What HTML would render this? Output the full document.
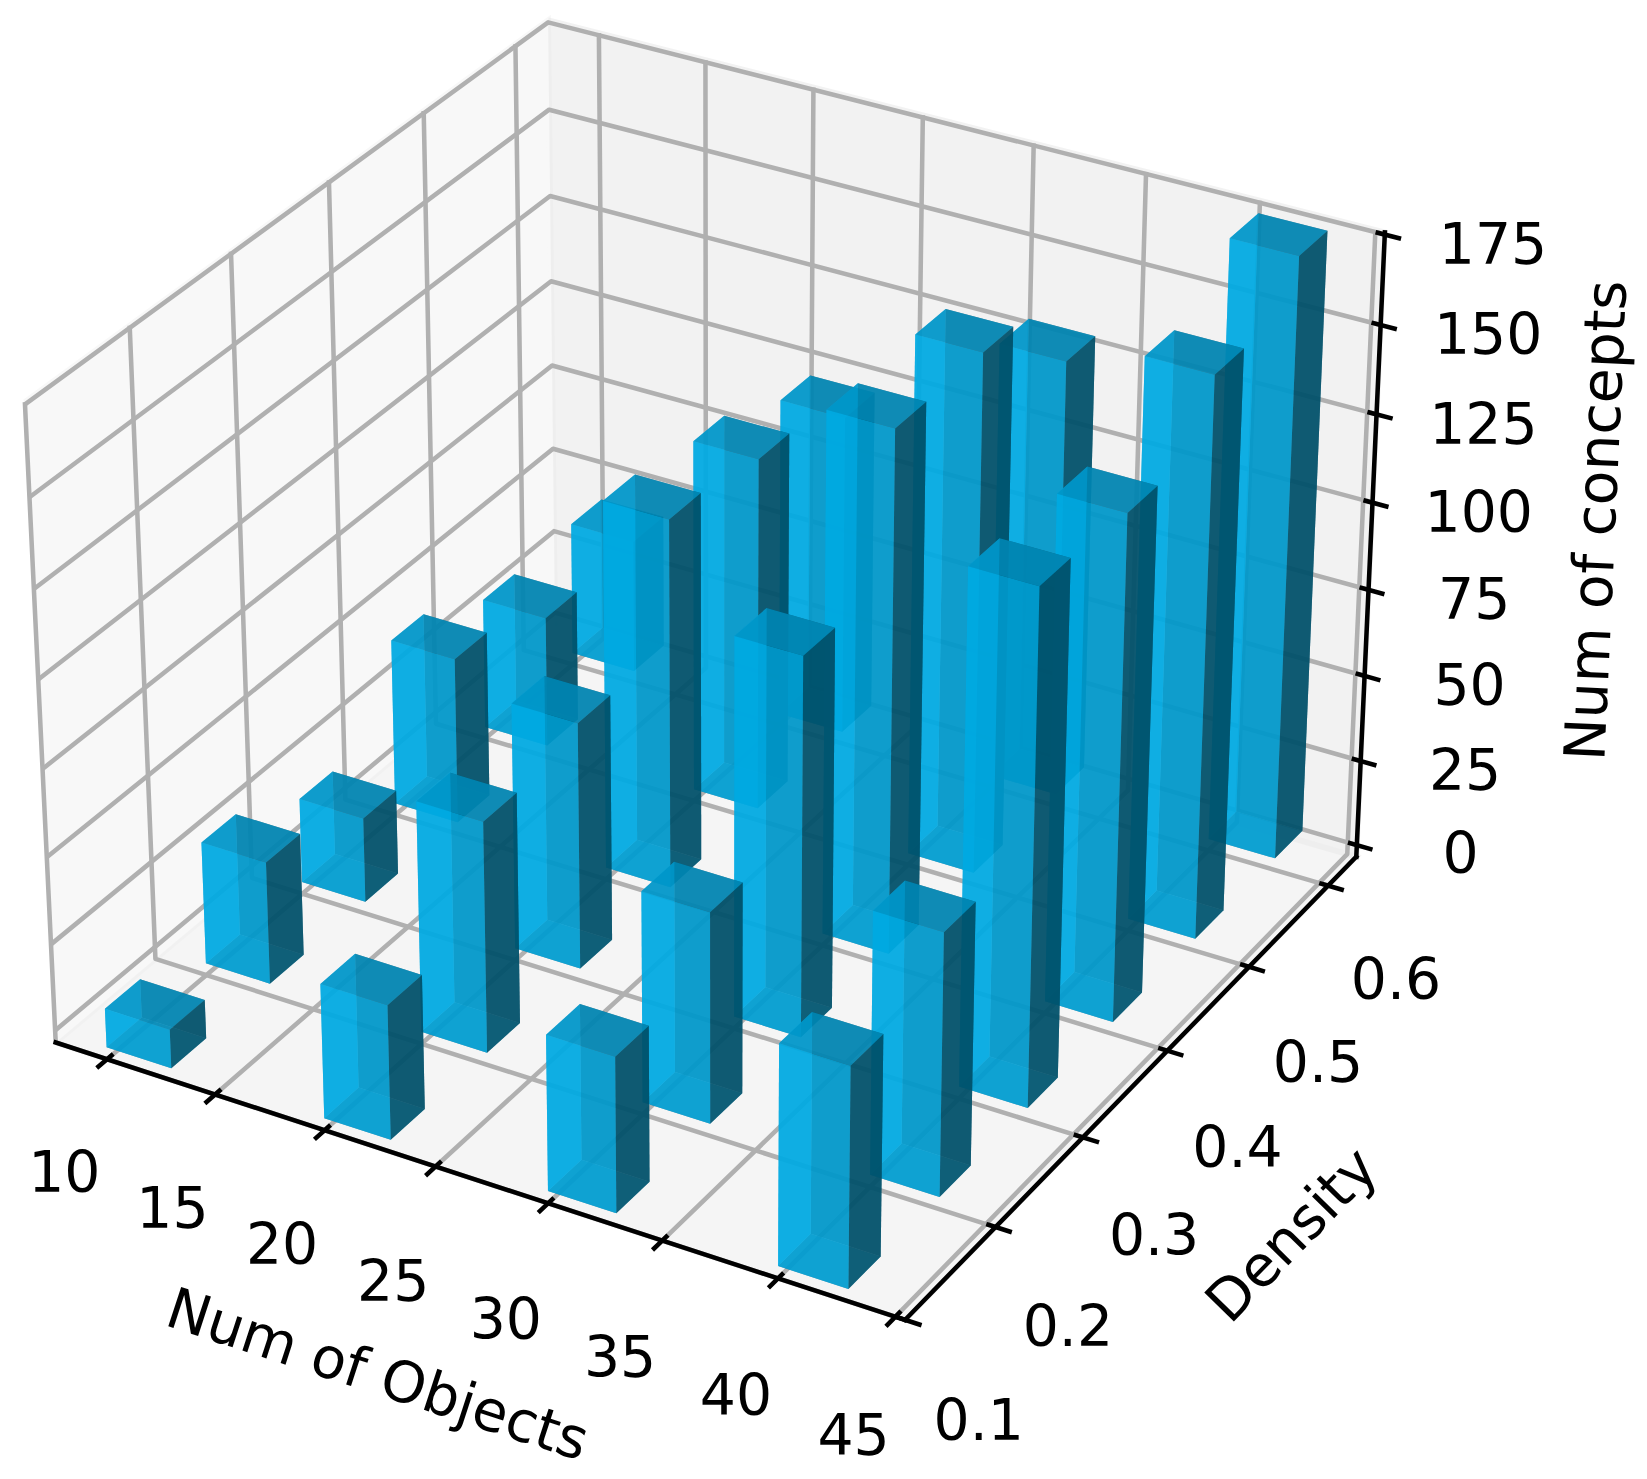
<!DOCTYPE html>
<html lang="en"><head><meta charset="utf-8"><title>Num of concepts by Num of Objects and Density</title>
<style>html,body{margin:0;padding:0;background:#fff;}body{width:1647px;height:1479px;overflow:hidden;font-family:"DejaVu Sans","Liberation Sans",sans-serif;}</style>
</head><body>
<svg width="1647" height="1479" viewBox="113.393 58.507 289.860 260.293" style="display:block">
 <defs>
  <style type="text/css">*{stroke-linejoin: round; stroke-linecap: butt}</style>
 </defs>
 <g id="figure_1">
  <g id="patch_1">
   <path d="M 0 345.6 L 460.8 345.6 L 460.8 0 L 0 0 z
" style="fill: #ffffff"/>
  </g>
  <g id="patch_2">
   <path d="M 103.104 307.584 L 369.216 307.584 L 369.216 41.472 L 103.104 41.472 z
" style="fill: #ffffff"/>
  </g>
  <g id="pane3d_1">
   <g id="patch_3">
    <path d="M 123.197 241.969 L 211.076 168.307 L 209.854 62.073 L 117.770 129.272 " style="fill: #f2f2f2; opacity: 0.5; stroke: #f2f2f2; stroke-linejoin: miter"/>
   </g>
  </g>
  <g id="pane3d_2">
   <g id="patch_4">
    <path d="M 211.076 168.307 L 352.090 209.294 L 357.122 99.402 L 209.854 62.073 " style="fill: #e6e6e6; opacity: 0.5; stroke: #e6e6e6; stroke-linejoin: miter"/>
   </g>
  </g>
  <g id="pane3d_3">
   <g id="patch_5">
    <path d="M 123.197 241.969 L 272.679 290.790 L 352.090 209.294 L 211.076 168.307 " style="fill: #ececec; opacity: 0.5; stroke: #ececec; stroke-linejoin: miter"/>
   </g>
  </g>
  <g id="grid3d_1">
   <g id="Line3DCollection_1">
    <path d="M 132.250 244.926 L 219.652 170.800 L 218.793 64.339 " style="fill: none; stroke: #b0b0b0; stroke-width: 0.8"/>
    <path d="M 151.254 251.132 L 237.638 176.028 L 237.547 69.093 " style="fill: none; stroke: #b0b0b0; stroke-width: 0.8"/>
    <path d="M 170.520 257.425 L 255.853 181.322 L 256.550 73.909 " style="fill: none; stroke: #b0b0b0; stroke-width: 0.8"/>
    <path d="M 190.054 263.804 L 274.300 186.684 L 275.805 78.790 " style="fill: none; stroke: #b0b0b0; stroke-width: 0.8"/>
    <path d="M 209.862 270.274 L 292.983 192.114 L 295.318 83.736 " style="fill: none; stroke: #b0b0b0; stroke-width: 0.8"/>
    <path d="M 229.949 276.834 L 311.908 197.615 L 315.095 88.749 " style="fill: none; stroke: #b0b0b0; stroke-width: 0.8"/>
    <path d="M 250.322 283.488 L 331.079 203.187 L 335.140 93.830 " style="fill: none; stroke: #b0b0b0; stroke-width: 0.8"/>
    <path d="M 270.987 290.237 L 350.501 208.832 L 355.459 98.980 " style="fill: none; stroke: #b0b0b0; stroke-width: 0.8"/>
   </g>
  </g>
  <g id="grid3d_2">
   <g id="Line3DCollection_2">
    <path d="M 117.770 129.272 L 123.197 241.969 L 272.679 290.790 " style="fill: none; stroke: #b0b0b0; stroke-width: 0.8"/>
    <path d="M 136.215 115.812 L 140.747 227.258 L 288.594 274.457 " style="fill: none; stroke: #b0b0b0; stroke-width: 0.8"/>
    <path d="M 154.042 102.803 L 157.733 213.020 L 303.971 258.677 " style="fill: none; stroke: #b0b0b0; stroke-width: 0.8"/>
    <path d="M 171.280 90.223 L 174.182 199.232 L 318.837 243.420 " style="fill: none; stroke: #b0b0b0; stroke-width: 0.8"/>
    <path d="M 187.959 78.052 L 190.120 185.873 L 333.217 228.663 " style="fill: none; stroke: #b0b0b0; stroke-width: 0.8"/>
    <path d="M 204.104 66.269 L 205.569 172.923 L 347.134 214.380 " style="fill: none; stroke: #b0b0b0; stroke-width: 0.8"/>
   </g>
  </g>
  <g id="grid3d_3">
   <g id="Line3DCollection_3">
    <path d="M 352.184 207.237 L 211.053 166.314 L 123.095 239.863 " style="fill: none; stroke: #b0b0b0; stroke-width: 0.8"/>
    <path d="M 352.862 192.442 L 210.888 151.987 L 122.366 224.711 " style="fill: none; stroke: #b0b0b0; stroke-width: 0.8"/>
    <path d="M 353.547 177.467 L 210.721 137.494 L 121.627 209.369 " style="fill: none; stroke: #b0b0b0; stroke-width: 0.8"/>
    <path d="M 354.241 162.310 L 210.553 122.833 L 120.879 193.833 " style="fill: none; stroke: #b0b0b0; stroke-width: 0.8"/>
    <path d="M 354.944 146.967 L 210.382 108.000 L 120.121 178.098 " style="fill: none; stroke: #b0b0b0; stroke-width: 0.8"/>
    <path d="M 355.655 131.434 L 210.210 92.993 L 119.354 162.162 " style="fill: none; stroke: #b0b0b0; stroke-width: 0.8"/>
    <path d="M 356.375 115.709 L 210.035 77.809 L 118.576 146.019 " style="fill: none; stroke: #b0b0b0; stroke-width: 0.8"/>
    <path d="M 357.105 99.786 L 209.858 62.444 L 117.789 129.668 " style="fill: none; stroke: #b0b0b0; stroke-width: 0.8"/>
   </g>
  </g>
  <g id="axis3d_1">
   <g id="line2d_1">
    <path d="M 123.197 241.969 L 272.679 290.790 " style="fill: none; stroke: #000000; stroke-width: 0.8; stroke-linecap: square"/>
   </g>
   <g id="xtick_1">
    <g id="line2d_2">
     <path d="M 133.011 244.280 L 130.725 246.219 " style="fill: none; stroke: #000000; stroke-width: 0.8; stroke-linecap: square"/>
    </g>
    <g id="text_1">
     <text style="font-size: 10px; font-family: 'DejaVu Sans', 'Liberation Sans', sans-serif; text-anchor: middle" x="124.721" y="268.235">10</text>
    </g>
   </g>
   <g id="xtick_2">
    <g id="line2d_3">
     <path d="M 152.006 250.478 L 149.745 252.444 " style="fill: none; stroke: #000000; stroke-width: 0.8; stroke-linecap: square"/>
    </g>
    <g id="text_2">
     <text style="font-size: 10px; font-family: 'DejaVu Sans', 'Liberation Sans', sans-serif; text-anchor: middle" x="143.744" y="274.573">15</text>
    </g>
   </g>
   <g id="xtick_3">
    <g id="line2d_4">
     <path d="M 171.264 256.761 L 169.029 258.754 " style="fill: none; stroke: #000000; stroke-width: 0.8; stroke-linecap: square"/>
    </g>
    <g id="text_3">
     <text style="font-size: 10px; font-family: 'DejaVu Sans', 'Liberation Sans', sans-serif; text-anchor: middle" x="163.031" y="280.999">20</text>
    </g>
   </g>
   <g id="xtick_4">
    <g id="line2d_5">
     <path d="M 190.789 263.132 L 188.581 265.153 " style="fill: none; stroke: #000000; stroke-width: 0.8; stroke-linecap: square"/>
    </g>
    <g id="text_4">
     <text style="font-size: 10px; font-family: 'DejaVu Sans', 'Liberation Sans', sans-serif; text-anchor: middle" x="182.587" y="287.514">25</text>
    </g>
   </g>
   <g id="xtick_5">
    <g id="line2d_6">
     <path d="M 210.587 269.591 L 208.408 271.641 " style="fill: none; stroke: #000000; stroke-width: 0.8; stroke-linecap: square"/>
    </g>
    <g id="text_5">
     <text style="font-size: 10px; font-family: 'DejaVu Sans', 'Liberation Sans', sans-serif; text-anchor: middle" x="202.418" y="294.122">30</text>
    </g>
   </g>
   <g id="xtick_6">
    <g id="line2d_7">
     <path d="M 230.665 276.142 L 228.515 278.221 " style="fill: none; stroke: #000000; stroke-width: 0.8; stroke-linecap: square"/>
    </g>
    <g id="text_6">
     <text style="font-size: 10px; font-family: 'DejaVu Sans', 'Liberation Sans', sans-serif; text-anchor: middle" x="222.530" y="300.823">35</text>
    </g>
   </g>
   <g id="xtick_7">
    <g id="line2d_8">
     <path d="M 251.028 282.786 L 248.908 284.894 " style="fill: none; stroke: #000000; stroke-width: 0.8; stroke-linecap: square"/>
    </g>
    <g id="text_7">
     <text style="font-size: 10px; font-family: 'DejaVu Sans', 'Liberation Sans', sans-serif; text-anchor: middle" x="242.929" y="307.619">40</text>
    </g>
   </g>
   <g id="xtick_8">
    <g id="line2d_9">
     <path d="M 271.682 289.525 L 269.593 291.664 " style="fill: none; stroke: #000000; stroke-width: 0.8; stroke-linecap: square"/>
    </g>
    <g id="text_8">
     <text style="font-size: 10px; font-family: 'DejaVu Sans', 'Liberation Sans', sans-serif; text-anchor: middle" x="263.621" y="314.513">45</text>
    </g>
   </g>
   <g id="text_9">
    <text style="font-size: 10px; font-family: 'DejaVu Sans', 'Liberation Sans', sans-serif; text-anchor: middle" x="178.819" y="303.631" transform="rotate(-341.912 178.819 303.631)">Num of Objects</text>
   </g>
  </g>
  <g id="axis3d_2">
   <g id="line2d_10">
    <path d="M 352.090 209.294 L 272.679 290.790 " style="fill: none; stroke: #000000; stroke-width: 0.8; stroke-linecap: square"/>
   </g>
   <g id="xtick_9">
    <g id="line2d_11">
     <path d="M 271.419 290.378 L 275.202 291.614 " style="fill: none; stroke: #000000; stroke-width: 0.8; stroke-linecap: square"/>
    </g>
    <g id="text_10">
     <text style="font-size: 10px; font-family: 'DejaVu Sans', 'Liberation Sans', sans-serif; text-anchor: middle" x="285.633" y="311.895">0.1</text>
    </g>
   </g>
   <g id="xtick_10">
    <g id="line2d_12">
     <path d="M 287.348 274.060 L 291.087 275.253 " style="fill: none; stroke: #000000; stroke-width: 0.8; stroke-linecap: square"/>
    </g>
    <g id="text_11">
     <text style="font-size: 10px; font-family: 'DejaVu Sans', 'Liberation Sans', sans-serif; text-anchor: middle" x="301.334" y="295.321">0.2</text>
    </g>
   </g>
   <g id="xtick_11">
    <g id="line2d_13">
     <path d="M 302.740 258.292 L 306.435 259.446 " style="fill: none; stroke: #000000; stroke-width: 0.8; stroke-linecap: square"/>
    </g>
    <g id="text_12">
     <text style="font-size: 10px; font-family: 'DejaVu Sans', 'Liberation Sans', sans-serif; text-anchor: middle" x="316.505" y="279.306">0.3</text>
    </g>
   </g>
   <g id="xtick_12">
    <g id="line2d_14">
     <path d="M 317.620 243.049 L 321.272 244.164 " style="fill: none; stroke: #000000; stroke-width: 0.8; stroke-linecap: square"/>
    </g>
    <g id="text_13">
     <text style="font-size: 10px; font-family: 'DejaVu Sans', 'Liberation Sans', sans-serif; text-anchor: middle" x="331.171" y="263.825">0.4</text>
    </g>
   </g>
   <g id="xtick_13">
    <g id="line2d_15">
     <path d="M 332.014 228.303 L 335.624 229.383 " style="fill: none; stroke: #000000; stroke-width: 0.8; stroke-linecap: square"/>
    </g>
    <g id="text_14">
     <text style="font-size: 10px; font-family: 'DejaVu Sans', 'Liberation Sans', sans-serif; text-anchor: middle" x="345.358" y="248.850">0.5</text>
    </g>
   </g>
   <g id="xtick_14">
    <g id="line2d_16">
     <path d="M 345.946 214.032 L 349.514 215.077 " style="fill: none; stroke: #000000; stroke-width: 0.8; stroke-linecap: square"/>
    </g>
    <g id="text_15">
     <text style="font-size: 10px; font-family: 'DejaVu Sans', 'Liberation Sans', sans-serif; text-anchor: middle" x="359.088" y="234.356">0.6</text>
    </g>
   </g>
   <g id="text_16">
    <text style="font-size: 10px; font-family: 'DejaVu Sans', 'Liberation Sans', sans-serif; text-anchor: middle" x="343.109" y="278.155" transform="rotate(-45.742 343.109 278.155)">Density</text>
   </g>
  </g>
  <g id="axis3d_3">
   <g id="line2d_17">
    <path d="M 352.090 209.294 L 357.122 99.402 " style="fill: none; stroke: #000000; stroke-width: 0.8; stroke-linecap: square"/>
   </g>
   <g id="xtick_15">
    <g id="line2d_18">
     <path d="M 351.000 206.894 L 354.556 207.925 " style="fill: none; stroke: #000000; stroke-width: 0.8; stroke-linecap: square"/>
    </g>
    <g id="text_17">
     <text style="font-size: 10px; font-family: 'DejaVu Sans', 'Liberation Sans', sans-serif; text-anchor: middle" x="370.448" y="212.235">0</text>
    </g>
   </g>
   <g id="xtick_16">
    <g id="line2d_19">
     <path d="M 351.670 192.102 L 355.248 193.122 " style="fill: none; stroke: #000000; stroke-width: 0.8; stroke-linecap: square"/>
    </g>
    <g id="text_18">
     <text style="font-size: 10px; font-family: 'DejaVu Sans', 'Liberation Sans', sans-serif; text-anchor: middle" x="371.233" y="197.468">25</text>
    </g>
   </g>
   <g id="xtick_17">
    <g id="line2d_20">
     <path d="M 352.348 177.132 L 355.949 178.140 " style="fill: none; stroke: #000000; stroke-width: 0.8; stroke-linecap: square"/>
    </g>
    <g id="text_19">
     <text style="font-size: 10px; font-family: 'DejaVu Sans', 'Liberation Sans', sans-serif; text-anchor: middle" x="372.028" y="182.524">50</text>
    </g>
   </g>
   <g id="xtick_18">
    <g id="line2d_21">
     <path d="M 353.034 161.979 L 356.658 162.974 " style="fill: none; stroke: #000000; stroke-width: 0.8; stroke-linecap: square"/>
    </g>
    <g id="text_20">
     <text style="font-size: 10px; font-family: 'DejaVu Sans', 'Liberation Sans', sans-serif; text-anchor: middle" x="372.832" y="167.398">75</text>
    </g>
   </g>
   <g id="xtick_19">
    <g id="line2d_22">
     <path d="M 353.729 146.640 L 357.376 147.623 " style="fill: none; stroke: #000000; stroke-width: 0.8; stroke-linecap: square"/>
    </g>
    <g id="text_21">
     <text style="font-size: 10px; font-family: 'DejaVu Sans', 'Liberation Sans', sans-serif; text-anchor: middle" x="373.646" y="152.086">100</text>
    </g>
   </g>
   <g id="xtick_20">
    <g id="line2d_23">
     <path d="M 354.433 131.111 L 358.103 132.081 " style="fill: none; stroke: #000000; stroke-width: 0.8; stroke-linecap: square"/>
    </g>
    <g id="text_22">
     <text style="font-size: 10px; font-family: 'DejaVu Sans', 'Liberation Sans', sans-serif; text-anchor: middle" x="374.470" y="136.586">125</text>
    </g>
   </g>
   <g id="xtick_21">
    <g id="line2d_24">
     <path d="M 355.145 115.390 L 358.839 116.347 " style="fill: none; stroke: #000000; stroke-width: 0.8; stroke-linecap: square"/>
    </g>
    <g id="text_23">
     <text style="font-size: 10px; font-family: 'DejaVu Sans', 'Liberation Sans', sans-serif; text-anchor: middle" x="375.305" y="120.894">150</text>
    </g>
   </g>
   <g id="xtick_22">
    <g id="line2d_25">
     <path d="M 355.866 99.472 L 359.584 100.415 " style="fill: none; stroke: #000000; stroke-width: 0.8; stroke-linecap: square"/>
    </g>
    <g id="text_24">
     <text style="font-size: 10px; font-family: 'DejaVu Sans', 'Liberation Sans', sans-serif; text-anchor: middle" x="376.150" y="105.007">175</text>
    </g>
   </g>
   <g id="text_25">
    <text style="font-size: 10px; font-family: 'DejaVu Sans', 'Liberation Sans', sans-serif; text-anchor: middle" x="397.683" y="150.269" transform="rotate(-87.378 397.683 150.269)">Num of concepts</text>
   </g>
  </g>
  <g id="axes_1">
   <g id="Poly3DCollection_1">
    <path d="M 214.156 173.439 L 219.426 168.980 L 230.201 172.106 L 224.969 176.598 z
" clip-path="url(#p7716fed305)" style="fill: #006688; fill-opacity: 0.75"/>
    <path d="M 219.426 168.980 L 219.242 146.404 L 230.114 149.471 L 230.201 172.106 z
" clip-path="url(#p7716fed305)" style="fill: #00506a; fill-opacity: 0.75"/>
    <path d="M 214.156 173.439 L 213.923 150.781 L 219.242 146.404 L 219.426 168.980 z
" clip-path="url(#p7716fed305)" style="fill: #00a9e1; fill-opacity: 0.75"/>
    <path d="M 224.969 176.598 L 230.201 172.106 L 230.114 149.471 L 224.834 153.882 z
" clip-path="url(#p7716fed305)" style="fill: #00506a; fill-opacity: 0.75"/>
    <path d="M 214.156 173.439 L 224.969 176.598 L 224.834 153.882 L 213.923 150.781 z
" clip-path="url(#p7716fed305)" style="fill: #00a9e1; fill-opacity: 0.75"/>
    <path d="M 213.923 150.781 L 224.834 153.882 L 230.114 149.471 L 219.242 146.404 z
" clip-path="url(#p7716fed305)" style="fill: #0092c3; fill-opacity: 0.75"/>
    <path d="M 250.521 184.063 L 255.661 179.490 L 266.712 182.695 L 261.613 187.304 z
" clip-path="url(#p7716fed305)" style="fill: #006688; fill-opacity: 0.75"/>
    <path d="M 198.780 186.448 L 204.216 181.849 L 215.101 185.072 L 209.704 189.706 z
" clip-path="url(#p7716fed305)" style="fill: #006688; fill-opacity: 0.75"/>
    <path d="M 204.216 181.849 L 203.897 159.589 L 214.879 162.755 L 215.101 185.072 z
" clip-path="url(#p7716fed305)" style="fill: #00506a; fill-opacity: 0.75"/>
    <path d="M 198.780 186.448 L 198.411 164.106 L 203.897 159.589 L 204.216 181.849 z
" clip-path="url(#p7716fed305)" style="fill: #00a9e1; fill-opacity: 0.75"/>
    <path d="M 255.661 179.490 L 256.013 124.586 L 267.310 127.648 L 266.712 182.695 z
" clip-path="url(#p7716fed305)" style="fill: #00506a; fill-opacity: 0.75"/>
    <path d="M 250.521 184.063 L 250.761 128.955 L 256.013 124.586 L 255.661 179.490 z
" clip-path="url(#p7716fed305)" style="fill: #00a9e1; fill-opacity: 0.75"/>
    <path d="M 209.704 189.706 L 215.101 185.072 L 214.879 162.755 L 209.431 167.308 z
" clip-path="url(#p7716fed305)" style="fill: #00506a; fill-opacity: 0.75"/>
    <path d="M 198.780 186.448 L 209.704 189.706 L 209.431 167.308 L 198.411 164.106 z
" clip-path="url(#p7716fed305)" style="fill: #00a9e1; fill-opacity: 0.75"/>
    <path d="M 198.411 164.106 L 209.431 167.308 L 214.879 162.755 L 203.897 159.589 z
" clip-path="url(#p7716fed305)" style="fill: #0092c3; fill-opacity: 0.75"/>
    <path d="M 287.827 194.962 L 292.828 190.270 L 304.165 193.558 L 299.207 198.287 z
" clip-path="url(#p7716fed305)" style="fill: #006688; fill-opacity: 0.75"/>
    <path d="M 261.613 187.304 L 266.712 182.695 L 267.310 127.648 L 262.101 132.051 z
" clip-path="url(#p7716fed305)" style="fill: #00506a; fill-opacity: 0.75"/>
    <path d="M 250.521 184.063 L 261.613 187.304 L 262.101 132.051 L 250.761 128.955 z
" clip-path="url(#p7716fed305)" style="fill: #00a9e1; fill-opacity: 0.75"/>
    <path d="M 235.522 197.408 L 240.825 192.690 L 251.993 195.997 L 246.731 200.752 z
" clip-path="url(#p7716fed305)" style="fill: #006688; fill-opacity: 0.75"/>
    <path d="M 182.917 199.869 L 188.526 195.123 L 199.522 198.449 L 193.952 203.232 z
" clip-path="url(#p7716fed305)" style="fill: #006688; fill-opacity: 0.75"/>
    <path d="M 188.526 195.123 L 187.934 166.608 L 199.055 169.861 L 199.522 198.449 z
" clip-path="url(#p7716fed305)" style="fill: #00506a; fill-opacity: 0.75"/>
    <path d="M 250.761 128.955 L 262.101 132.051 L 267.310 127.648 L 256.013 124.586 z
" clip-path="url(#p7716fed305)" style="fill: #0092c3; fill-opacity: 0.75"/>
    <path d="M 182.917 199.869 L 182.256 171.249 L 187.934 166.608 L 188.526 195.123 z
" clip-path="url(#p7716fed305)" style="fill: #00a9e1; fill-opacity: 0.75"/>
    <path d="M 240.825 192.690 L 240.852 131.670 L 252.297 134.816 L 251.993 195.997 z
" clip-path="url(#p7716fed305)" style="fill: #00506a; fill-opacity: 0.75"/>
    <path d="M 292.828 190.270 L 294.452 114.601 L 306.144 117.689 L 304.165 193.558 z
" clip-path="url(#p7716fed305)" style="fill: #00506a; fill-opacity: 0.75"/>
    <path d="M 326.109 206.146 L 330.962 201.331 L 342.596 204.705 L 337.789 209.558 z
" clip-path="url(#p7716fed305)" style="fill: #006688; fill-opacity: 0.75"/>
    <path d="M 235.522 197.408 L 235.417 136.159 L 240.852 131.670 L 240.825 192.690 z
" clip-path="url(#p7716fed305)" style="fill: #00a9e1; fill-opacity: 0.75"/>
    <path d="M 287.827 194.962 L 289.306 119.007 L 294.452 114.601 L 292.828 190.270 z
" clip-path="url(#p7716fed305)" style="fill: #00a9e1; fill-opacity: 0.75"/>
    <path d="M 193.952 203.232 L 199.522 198.449 L 199.055 169.861 L 193.418 174.538 z
" clip-path="url(#p7716fed305)" style="fill: #00506a; fill-opacity: 0.75"/>
    <path d="M 182.917 199.869 L 193.952 203.232 L 193.418 174.538 L 182.256 171.249 z
" clip-path="url(#p7716fed305)" style="fill: #00a9e1; fill-opacity: 0.75"/>
    <path d="M 273.228 208.657 L 278.391 203.814 L 289.852 207.208 L 284.734 212.089 z
" clip-path="url(#p7716fed305)" style="fill: #006688; fill-opacity: 0.75"/>
    <path d="M 246.731 200.752 L 251.993 195.997 L 252.297 134.816 L 246.905 139.342 z
" clip-path="url(#p7716fed305)" style="fill: #00506a; fill-opacity: 0.75"/>
    <path d="M 299.207 198.287 L 304.165 193.558 L 306.144 117.689 L 301.044 122.129 z
" clip-path="url(#p7716fed305)" style="fill: #00506a; fill-opacity: 0.75"/>
    <path d="M 182.256 171.249 L 193.418 174.538 L 199.055 169.861 L 187.934 166.608 z
" clip-path="url(#p7716fed305)" style="fill: #0092c3; fill-opacity: 0.75"/>
    <path d="M 235.522 197.408 L 246.731 200.752 L 246.905 139.342 L 235.417 136.159 z
" clip-path="url(#p7716fed305)" style="fill: #00a9e1; fill-opacity: 0.75"/>
    <path d="M 287.827 194.962 L 299.207 198.287 L 301.044 122.129 L 289.306 119.007 z
" clip-path="url(#p7716fed305)" style="fill: #00a9e1; fill-opacity: 0.75"/>
    <path d="M 220.040 211.182 L 225.515 206.311 L 236.802 209.725 L 231.369 214.635 z
" clip-path="url(#p7716fed305)" style="fill: #006688; fill-opacity: 0.75"/>
    <path d="M 166.542 213.723 L 172.333 208.823 L 183.442 212.257 L 177.691 217.195 z
" clip-path="url(#p7716fed305)" style="fill: #006688; fill-opacity: 0.75"/>
    <path d="M 172.333 208.823 L 171.934 194.297 L 183.107 197.693 L 183.442 212.257 z
" clip-path="url(#p7716fed305)" style="fill: #00506a; fill-opacity: 0.75"/>
    <path d="M 166.542 213.723 L 166.106 199.143 L 171.934 194.297 L 172.333 208.823 z
" clip-path="url(#p7716fed305)" style="fill: #00a9e1; fill-opacity: 0.75"/>
    <path d="M 177.691 217.195 L 183.442 212.257 L 183.107 197.693 L 177.320 202.578 z
" clip-path="url(#p7716fed305)" style="fill: #00506a; fill-opacity: 0.75"/>
    <path d="M 235.417 136.159 L 246.905 139.342 L 252.297 134.816 L 240.852 131.670 z
" clip-path="url(#p7716fed305)" style="fill: #0092c3; fill-opacity: 0.75"/>
    <path d="M 166.542 213.723 L 177.691 217.195 L 177.320 202.578 L 166.106 199.143 z
" clip-path="url(#p7716fed305)" style="fill: #00a9e1; fill-opacity: 0.75"/>
    <path d="M 166.106 199.143 L 177.320 202.578 L 183.107 197.693 L 171.934 194.297 z
" clip-path="url(#p7716fed305)" style="fill: #0092c3; fill-opacity: 0.75"/>
    <path d="M 225.515 206.311 L 225.143 142.024 L 236.724 145.268 L 236.802 209.725 z
" clip-path="url(#p7716fed305)" style="fill: #00506a; fill-opacity: 0.75"/>
    <path d="M 311.938 220.205 L 316.950 215.232 L 328.717 218.717 L 323.752 223.729 z
" clip-path="url(#p7716fed305)" style="fill: #006688; fill-opacity: 0.75"/>
    <path d="M 220.040 211.182 L 219.521 146.652 L 225.143 142.024 L 225.515 206.311 z
" clip-path="url(#p7716fed305)" style="fill: #00a9e1; fill-opacity: 0.75"/>
    <path d="M 289.306 119.007 L 301.044 122.129 L 306.144 117.689 L 294.452 114.601 z
" clip-path="url(#p7716fed305)" style="fill: #0092c3; fill-opacity: 0.75"/>
    <path d="M 330.962 201.331 L 334.865 96.025 L 347.015 99.114 L 342.596 204.705 z
" clip-path="url(#p7716fed305)" style="fill: #00506a; fill-opacity: 0.75"/>
    <path d="M 278.391 203.814 L 279.820 112.880 L 291.713 116.030 L 289.852 207.208 z
" clip-path="url(#p7716fed305)" style="fill: #00506a; fill-opacity: 0.75"/>
    <path d="M 258.154 222.798 L 263.486 217.796 L 275.074 221.302 L 269.788 226.343 z
" clip-path="url(#p7716fed305)" style="fill: #006688; fill-opacity: 0.75"/>
    <path d="M 326.109 206.146 L 329.825 100.433 L 334.865 96.025 L 330.962 201.331 z
" clip-path="url(#p7716fed305)" style="fill: #00a9e1; fill-opacity: 0.75"/>
    <path d="M 273.228 208.657 L 274.474 117.374 L 279.820 112.880 L 278.391 203.814 z
" clip-path="url(#p7716fed305)" style="fill: #00a9e1; fill-opacity: 0.75"/>
    <path d="M 231.369 214.635 L 236.802 209.725 L 236.724 145.268 L 231.147 149.933 z
" clip-path="url(#p7716fed305)" style="fill: #00506a; fill-opacity: 0.75"/>
    <path d="M 220.040 211.182 L 231.369 214.635 L 231.147 149.933 L 219.521 146.652 z
" clip-path="url(#p7716fed305)" style="fill: #00a9e1; fill-opacity: 0.75"/>
    <path d="M 204.053 225.406 L 209.708 220.376 L 221.115 223.901 L 215.503 228.973 z
" clip-path="url(#p7716fed305)" style="fill: #006688; fill-opacity: 0.75"/>
    <path d="M 337.789 209.558 L 342.596 204.705 L 347.015 99.114 L 342.026 103.558 z
" clip-path="url(#p7716fed305)" style="fill: #00506a; fill-opacity: 0.75"/>
    <path d="M 284.734 212.089 L 289.852 207.208 L 291.713 116.030 L 286.414 120.561 z
" clip-path="url(#p7716fed305)" style="fill: #00506a; fill-opacity: 0.75"/>
    <path d="M 326.109 206.146 L 337.789 209.558 L 342.026 103.558 L 329.825 100.433 z
" clip-path="url(#p7716fed305)" style="fill: #00a9e1; fill-opacity: 0.75"/>
    <path d="M 273.228 208.657 L 284.734 212.089 L 286.414 120.561 L 274.474 117.374 z
" clip-path="url(#p7716fed305)" style="fill: #00a9e1; fill-opacity: 0.75"/>
    <path d="M 149.631 228.031 L 155.613 222.970 L 166.836 226.517 L 160.895 231.618 z
" clip-path="url(#p7716fed305)" style="fill: #006688; fill-opacity: 0.75"/>
    <path d="M 155.613 222.970 L 154.883 201.805 L 166.201 205.296 L 166.836 226.517 z
" clip-path="url(#p7716fed305)" style="fill: #00506a; fill-opacity: 0.75"/>
    <path d="M 149.631 228.031 L 148.845 206.787 L 154.883 201.805 L 155.613 222.970 z
" clip-path="url(#p7716fed305)" style="fill: #00a9e1; fill-opacity: 0.75"/>
    <path d="M 209.708 220.376 L 209.180 177.468 L 220.786 180.881 L 221.115 223.901 z
" clip-path="url(#p7716fed305)" style="fill: #00506a; fill-opacity: 0.75"/>
    <path d="M 204.053 225.406 L 203.422 182.338 L 209.180 177.468 L 209.708 220.376 z
" clip-path="url(#p7716fed305)" style="fill: #00a9e1; fill-opacity: 0.75"/>
    <path d="M 160.895 231.618 L 166.836 226.517 L 166.201 205.296 L 160.204 210.32 z
" clip-path="url(#p7716fed305)" style="fill: #00506a; fill-opacity: 0.75"/>
    <path d="M 219.521 146.652 L 231.147 149.933 L 236.724 145.268 L 225.143 142.024 z
" clip-path="url(#p7716fed305)" style="fill: #0092c3; fill-opacity: 0.75"/>
    <path d="M 149.631 228.031 L 160.895 231.618 L 160.204 210.32 L 148.845 206.787 z
" clip-path="url(#p7716fed305)" style="fill: #00a9e1; fill-opacity: 0.75"/>
    <path d="M 297.299 234.727 L 302.477 229.590 L 314.380 233.190 L 309.250 238.369 z
" clip-path="url(#p7716fed305)" style="fill: #006688; fill-opacity: 0.75"/>
    <path d="M 215.503 228.973 L 221.115 223.901 L 220.786 180.881 L 215.073 185.791 z
" clip-path="url(#p7716fed305)" style="fill: #00506a; fill-opacity: 0.75"/>
    <path d="M 316.950 215.232 L 320.060 116.626 L 332.316 119.843 L 328.717 218.717 z
" clip-path="url(#p7716fed305)" style="fill: #00506a; fill-opacity: 0.75"/>
    <path d="M 148.845 206.787 L 160.204 210.32 L 166.201 205.296 L 154.883 201.805 z
" clip-path="url(#p7716fed305)" style="fill: #0092c3; fill-opacity: 0.75"/>
    <path d="M 204.053 225.406 L 215.503 228.973 L 215.073 185.791 L 203.422 182.338 z
" clip-path="url(#p7716fed305)" style="fill: #00a9e1; fill-opacity: 0.75"/>
    <path d="M 311.938 220.205 L 314.863 121.217 L 320.060 116.626 L 316.950 215.232 z
" clip-path="url(#p7716fed305)" style="fill: #00a9e1; fill-opacity: 0.75"/>
    <path d="M 263.486 217.796 L 264.377 125.975 L 276.406 129.232 L 275.074 221.302 z
" clip-path="url(#p7716fed305)" style="fill: #00506a; fill-opacity: 0.75"/>
    <path d="M 242.581 237.407 L 248.090 232.239 L 259.808 235.861 L 254.344 241.071 z
" clip-path="url(#p7716fed305)" style="fill: #006688; fill-opacity: 0.75"/>
    <path d="M 258.154 222.798 L 258.850 130.623 L 264.377 125.975 L 263.486 217.796 z
" clip-path="url(#p7716fed305)" style="fill: #00a9e1; fill-opacity: 0.75"/>
    <path d="M 323.752 223.729 L 328.717 218.717 L 332.316 119.843 L 327.171 124.472 z
" clip-path="url(#p7716fed305)" style="fill: #00506a; fill-opacity: 0.75"/>
    <path d="M 187.535 240.103 L 193.378 234.904 L 204.908 238.547 L 199.108 243.789 z
" clip-path="url(#p7716fed305)" style="fill: #006688; fill-opacity: 0.75"/>
    <path d="M 311.938 220.205 L 323.752 223.729 L 327.171 124.472 L 314.863 121.217 z
" clip-path="url(#p7716fed305)" style="fill: #00a9e1; fill-opacity: 0.75"/>
    <path d="M 274.474 117.374 L 286.414 120.561 L 291.713 116.030 L 279.820 112.880 z
" clip-path="url(#p7716fed305)" style="fill: #0092c3; fill-opacity: 0.75"/>
    <path d="M 203.422 182.338 L 215.073 185.791 L 220.786 180.881 L 209.180 177.468 z
" clip-path="url(#p7716fed305)" style="fill: #0092c3; fill-opacity: 0.75"/>
    <path d="M 269.788 226.343 L 275.074 221.302 L 276.406 129.232 L 270.927 133.918 z
" clip-path="url(#p7716fed305)" style="fill: #00506a; fill-opacity: 0.75"/>
    <path d="M 138.338 237.585 L 138.056 230.831 L 149.426 234.479 L 149.678 241.250 z
" clip-path="url(#p7716fed305)" style="fill: #00506a; fill-opacity: 0.75"/>
    <path d="M 258.154 222.798 L 269.788 226.343 L 270.927 133.918 L 258.850 130.623 z
" clip-path="url(#p7716fed305)" style="fill: #00a9e1; fill-opacity: 0.75"/>
    <path d="M 132.156 242.815 L 131.855 236.037 L 138.056 230.831 L 138.338 237.585 z
" clip-path="url(#p7716fed305)" style="fill: #00a9e1; fill-opacity: 0.75"/>
    <path d="M 132.156 242.815 L 138.338 237.585 L 149.678 241.250 L 143.537 246.523 z
" clip-path="url(#p7716fed305)" style="fill: #006688; fill-opacity: 0.75"/>
    <path d="M 329.825 100.433 L 342.026 103.558 L 347.015 99.114 L 334.865 96.025 z
" clip-path="url(#p7716fed305)" style="fill: #0092c3; fill-opacity: 0.75"/>
    <path d="M 193.378 234.904 L 192.606 194.491 L 204.325 198.028 L 204.908 238.547 z
" clip-path="url(#p7716fed305)" style="fill: #00506a; fill-opacity: 0.75"/>
    <path d="M 131.855 236.037 L 143.266 239.727 L 149.426 234.479 L 138.056 230.831 z
" clip-path="url(#p7716fed305)" style="fill: #0092c3; fill-opacity: 0.75"/>
    <path d="M 187.535 240.103 L 186.660 199.539 L 192.606 194.491 L 193.378 234.904 z
" clip-path="url(#p7716fed305)" style="fill: #00a9e1; fill-opacity: 0.75"/>
    <path d="M 143.537 246.523 L 149.678 241.250 L 149.426 234.479 L 143.266 239.727 z
" clip-path="url(#p7716fed305)" style="fill: #00506a; fill-opacity: 0.75"/>
    <path d="M 132.156 242.815 L 143.537 246.523 L 143.266 239.727 L 131.855 236.037 z
" clip-path="url(#p7716fed305)" style="fill: #00a9e1; fill-opacity: 0.75"/>
    <path d="M 248.090 232.239 L 248.319 165.524 L 260.360 168.967 L 259.808 235.861 z
" clip-path="url(#p7716fed305)" style="fill: #00506a; fill-opacity: 0.75"/>
    <path d="M 242.581 237.407 L 242.659 170.437 L 248.319 165.524 L 248.090 232.239 z
" clip-path="url(#p7716fed305)" style="fill: #00a9e1; fill-opacity: 0.75"/>
    <path d="M 302.477 229.590 L 304.771 140.617 L 317.120 143.976 L 314.380 233.190 z
" clip-path="url(#p7716fed305)" style="fill: #00506a; fill-opacity: 0.75"/>
    <path d="M 297.299 234.727 L 299.416 145.411 L 304.771 140.617 L 302.477 229.590 z
" clip-path="url(#p7716fed305)" style="fill: #00a9e1; fill-opacity: 0.75"/>
    <path d="M 199.108 243.789 L 204.908 238.547 L 204.325 198.028 L 198.424 203.118 z
" clip-path="url(#p7716fed305)" style="fill: #00506a; fill-opacity: 0.75"/>
    <path d="M 282.169 249.738 L 287.522 244.427 L 299.562 248.149 L 294.258 253.503 z
" clip-path="url(#p7716fed305)" style="fill: #006688; fill-opacity: 0.75"/>
    <path d="M 187.535 240.103 L 199.108 243.789 L 198.424 203.118 L 186.660 199.539 z
" clip-path="url(#p7716fed305)" style="fill: #00a9e1; fill-opacity: 0.75"/>
    <path d="M 254.344 241.071 L 259.808 235.861 L 260.360 168.967 L 254.749 173.922 z
" clip-path="url(#p7716fed305)" style="fill: #00506a; fill-opacity: 0.75"/>
    <path d="M 242.581 237.407 L 254.344 241.071 L 254.749 173.922 L 242.659 170.437 z
" clip-path="url(#p7716fed305)" style="fill: #00a9e1; fill-opacity: 0.75"/>
    <path d="M 226.484 252.508 L 232.179 247.165 L 244.028 250.910 L 238.379 256.297 z
" clip-path="url(#p7716fed305)" style="fill: #006688; fill-opacity: 0.75"/>
    <path d="M 309.250 238.369 L 314.380 233.190 L 317.120 143.976 L 311.817 148.810 z
" clip-path="url(#p7716fed305)" style="fill: #00506a; fill-opacity: 0.75"/>
    <path d="M 297.299 234.727 L 309.250 238.369 L 311.817 148.810 L 299.416 145.411 z
" clip-path="url(#p7716fed305)" style="fill: #00a9e1; fill-opacity: 0.75"/>
    <path d="M 186.660 199.539 L 198.424 203.118 L 204.325 198.028 L 192.606 194.491 z
" clip-path="url(#p7716fed305)" style="fill: #0092c3; fill-opacity: 0.75"/>
    <path d="M 170.459 255.296 L 176.500 249.920 L 188.155 253.687 L 182.157 259.108 z
" clip-path="url(#p7716fed305)" style="fill: #006688; fill-opacity: 0.75"/>
    <path d="M 314.863 121.217 L 327.171 124.472 L 332.316 119.843 L 320.060 116.626 z
" clip-path="url(#p7716fed305)" style="fill: #0092c3; fill-opacity: 0.75"/>
    <path d="M 258.850 130.623 L 270.927 133.918 L 276.406 129.232 L 264.377 125.975 z
" clip-path="url(#p7716fed305)" style="fill: #0092c3; fill-opacity: 0.75"/>
    <path d="M 232.179 247.165 L 232.063 210.171 L 244.094 213.818 L 244.028 250.910 z
" clip-path="url(#p7716fed305)" style="fill: #00506a; fill-opacity: 0.75"/>
    <path d="M 176.500 249.920 L 175.883 226.379 L 187.649 230.085 L 188.155 253.687 z
" clip-path="url(#p7716fed305)" style="fill: #00506a; fill-opacity: 0.75"/>
    <path d="M 226.484 252.508 L 226.279 215.375 L 232.063 210.171 L 232.179 247.165 z
" clip-path="url(#p7716fed305)" style="fill: #00a9e1; fill-opacity: 0.75"/>
    <path d="M 170.459 255.296 L 169.778 231.667 L 175.883 226.379 L 176.500 249.920 z
" clip-path="url(#p7716fed305)" style="fill: #00a9e1; fill-opacity: 0.75"/>
    <path d="M 238.379 256.297 L 244.028 250.910 L 244.094 213.818 L 238.358 219.066 z
" clip-path="url(#p7716fed305)" style="fill: #00506a; fill-opacity: 0.75"/>
    <path d="M 182.157 259.108 L 188.155 253.687 L 187.649 230.085 L 181.589 235.417 z
" clip-path="url(#p7716fed305)" style="fill: #00506a; fill-opacity: 0.75"/>
    <path d="M 242.659 170.437 L 254.749 173.922 L 260.360 168.967 L 248.319 165.524 z
" clip-path="url(#p7716fed305)" style="fill: #0092c3; fill-opacity: 0.75"/>
    <path d="M 226.484 252.508 L 238.379 256.297 L 238.358 219.066 L 226.279 215.375 z
" clip-path="url(#p7716fed305)" style="fill: #00a9e1; fill-opacity: 0.75"/>
    <path d="M 170.459 255.296 L 182.157 259.108 L 181.589 235.417 L 169.778 231.667 z
" clip-path="url(#p7716fed305)" style="fill: #00a9e1; fill-opacity: 0.75"/>
    <path d="M 287.522 244.427 L 289.324 153.218 L 301.828 156.691 L 299.562 248.149 z
" clip-path="url(#p7716fed305)" style="fill: #00506a; fill-opacity: 0.75"/>
    <path d="M 169.778 231.667 L 181.589 235.417 L 187.649 230.085 L 175.883 226.379 z
" clip-path="url(#p7716fed305)" style="fill: #0092c3; fill-opacity: 0.75"/>
    <path d="M 282.169 249.738 L 283.778 158.174 L 289.324 153.218 L 287.522 244.427 z
" clip-path="url(#p7716fed305)" style="fill: #00a9e1; fill-opacity: 0.75"/>
    <path d="M 266.522 265.260 L 272.059 259.768 L 284.240 263.617 L 278.753 269.156 z
" clip-path="url(#p7716fed305)" style="fill: #006688; fill-opacity: 0.75"/>
    <path d="M 226.279 215.375 L 238.358 219.066 L 244.094 213.818 L 232.063 210.171 z
" clip-path="url(#p7716fed305)" style="fill: #0092c3; fill-opacity: 0.75"/>
    <path d="M 299.416 145.411 L 311.817 148.810 L 317.120 143.976 L 304.771 140.617 z
" clip-path="url(#p7716fed305)" style="fill: #0092c3; fill-opacity: 0.75"/>
    <path d="M 209.835 268.127 L 215.727 262.600 L 227.709 266.473 L 221.864 272.046 z
" clip-path="url(#p7716fed305)" style="fill: #006688; fill-opacity: 0.75"/>
    <path d="M 294.258 253.503 L 299.562 248.149 L 301.828 156.691 L 296.336 161.689 z
" clip-path="url(#p7716fed305)" style="fill: #00506a; fill-opacity: 0.75"/>
    <path d="M 282.169 249.738 L 294.258 253.503 L 296.336 161.689 L 283.778 158.174 z
" clip-path="url(#p7716fed305)" style="fill: #00a9e1; fill-opacity: 0.75"/>
    <path d="M 215.727 262.600 L 215.452 235.210 L 227.571 239.011 L 227.709 266.473 z
" clip-path="url(#p7716fed305)" style="fill: #00506a; fill-opacity: 0.75"/>
    <path d="M 272.059 259.768 L 272.681 213.479 L 285.100 217.205 L 284.240 263.617 z
" clip-path="url(#p7716fed305)" style="fill: #00506a; fill-opacity: 0.75"/>
    <path d="M 209.835 268.127 L 209.492 240.634 L 215.452 235.210 L 215.727 262.600 z
" clip-path="url(#p7716fed305)" style="fill: #00a9e1; fill-opacity: 0.75"/>
    <path d="M 266.522 265.260 L 267.041 218.797 L 272.681 213.479 L 272.059 259.768 z
" clip-path="url(#p7716fed305)" style="fill: #00a9e1; fill-opacity: 0.75"/>
    <path d="M 221.864 272.046 L 227.709 266.473 L 227.571 239.011 L 221.658 244.482 z
" clip-path="url(#p7716fed305)" style="fill: #00506a; fill-opacity: 0.75"/>
    <path d="M 278.753 269.156 L 284.240 263.617 L 285.100 217.205 L 279.512 222.568 z
" clip-path="url(#p7716fed305)" style="fill: #00506a; fill-opacity: 0.75"/>
    <path d="M 209.835 268.127 L 221.864 272.046 L 221.658 244.482 L 209.492 240.634 z
" clip-path="url(#p7716fed305)" style="fill: #00a9e1; fill-opacity: 0.75"/>
    <path d="M 266.522 265.260 L 278.753 269.156 L 279.512 222.568 L 267.041 218.797 z
" clip-path="url(#p7716fed305)" style="fill: #00a9e1; fill-opacity: 0.75"/>
    <path d="M 209.492 240.634 L 221.658 244.482 L 227.571 239.011 L 215.452 235.210 z
" clip-path="url(#p7716fed305)" style="fill: #0092c3; fill-opacity: 0.75"/>
    <path d="M 250.332 281.323 L 256.062 275.638 L 268.386 279.621 L 262.707 285.355 z
" clip-path="url(#p7716fed305)" style="fill: #006688; fill-opacity: 0.75"/>
    <path d="M 267.041 218.797 L 279.512 222.568 L 285.100 217.205 L 272.681 213.479 z
" clip-path="url(#p7716fed305)" style="fill: #0092c3; fill-opacity: 0.75"/>
    <path d="M 283.778 158.174 L 296.336 161.689 L 301.828 156.691 L 289.324 153.218 z
" clip-path="url(#p7716fed305)" style="fill: #0092c3; fill-opacity: 0.75"/>
    <path d="M 256.062 275.638 L 256.329 236.595 L 268.856 240.475 L 268.386 279.621 z
" clip-path="url(#p7716fed305)" style="fill: #00506a; fill-opacity: 0.75"/>
    <path d="M 250.332 281.323 L 250.506 242.132 L 256.329 236.595 L 256.062 275.638 z
" clip-path="url(#p7716fed305)" style="fill: #00a9e1; fill-opacity: 0.75"/>
    <path d="M 262.707 285.355 L 268.386 279.621 L 268.856 240.475 L 263.086 246.060 z
" clip-path="url(#p7716fed305)" style="fill: #00506a; fill-opacity: 0.75"/>
    <path d="M 250.332 281.323 L 262.707 285.355 L 263.086 246.060 L 250.506 242.132 z
" clip-path="url(#p7716fed305)" style="fill: #00a9e1; fill-opacity: 0.75"/>
    <path d="M 250.506 242.132 L 263.086 246.060 L 268.856 240.475 L 256.329 236.595 z
" clip-path="url(#p7716fed305)" style="fill: #0092c3; fill-opacity: 0.75"/>
   </g>
  </g>
 </g>
 <defs>
  <clipPath id="p7716fed305">
   <rect x="103.104" y="41.472" width="266.112" height="266.112"/>
  </clipPath>
 </defs>
</svg>

</body></html>
